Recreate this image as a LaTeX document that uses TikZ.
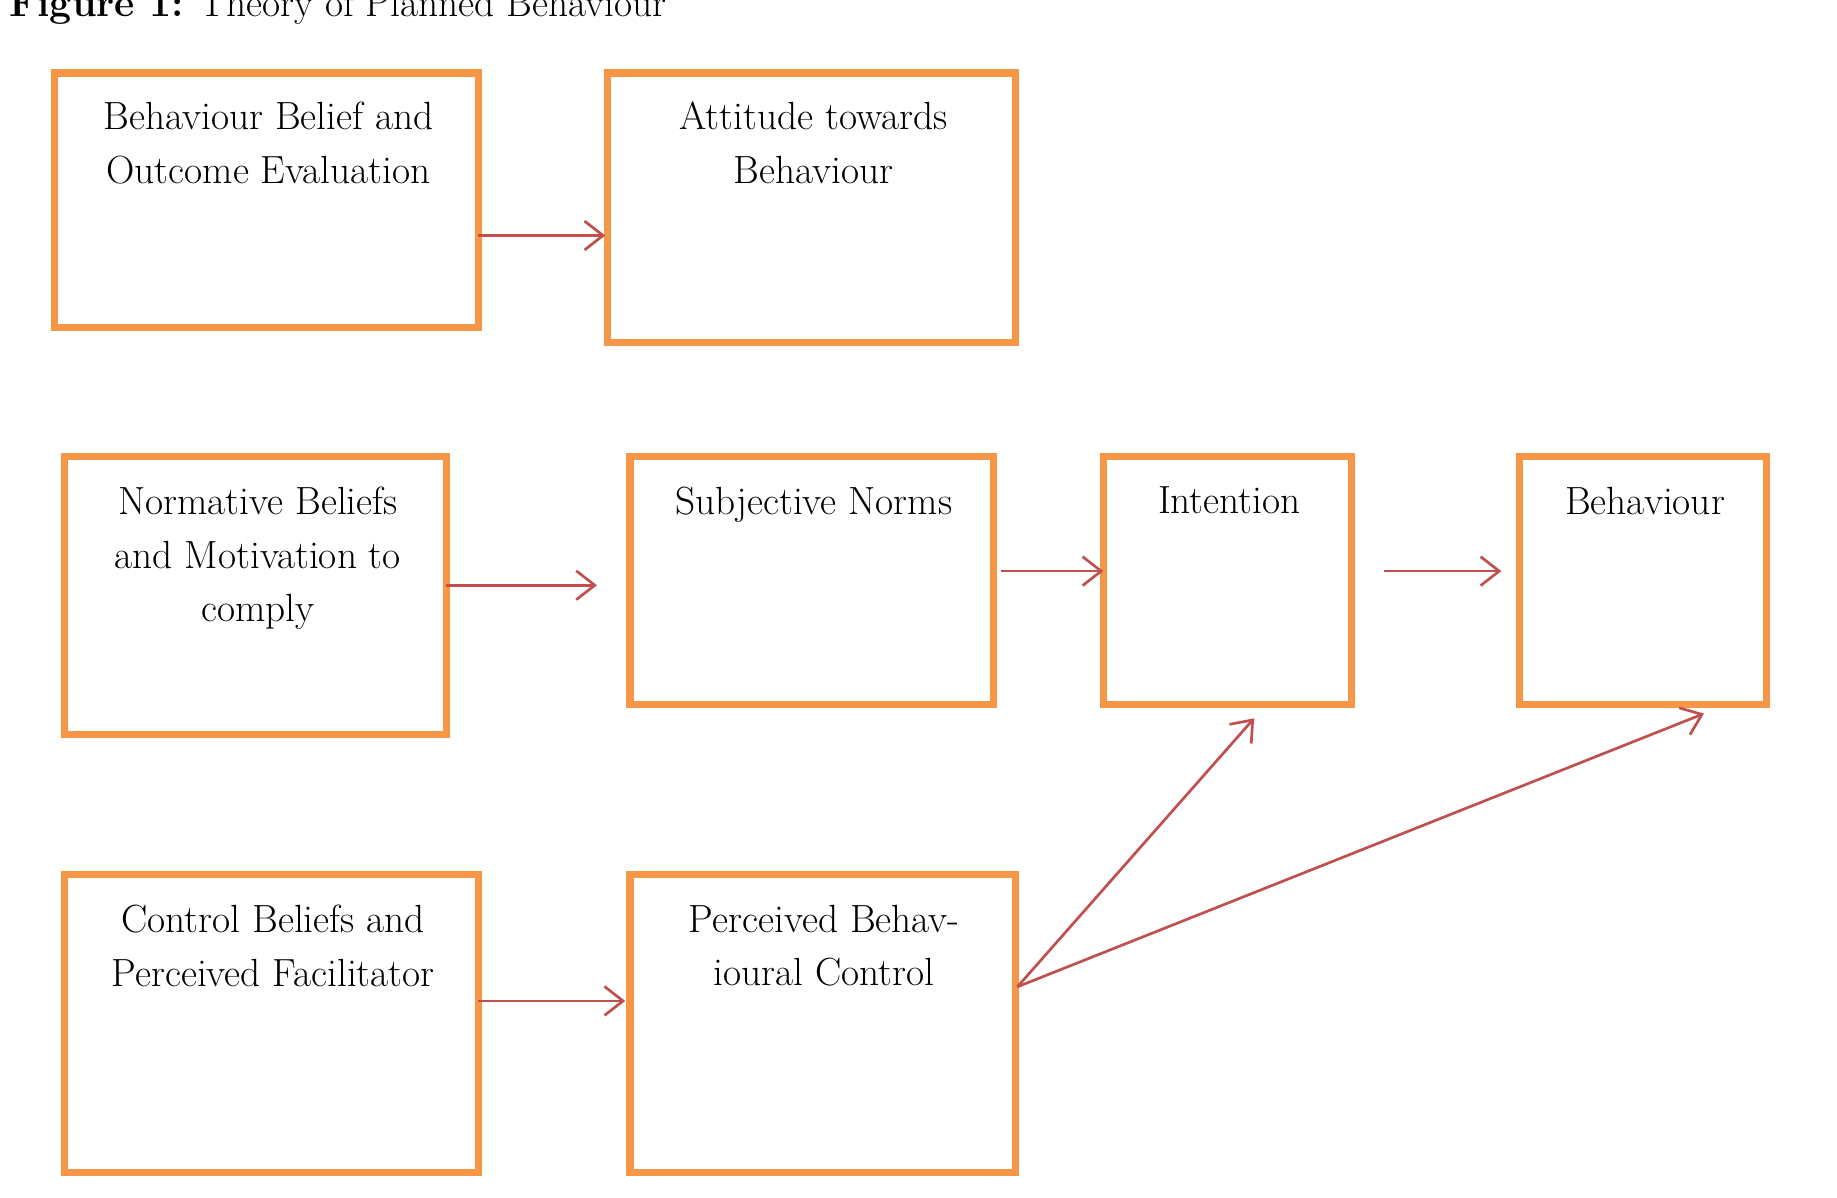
\documentclass[tikz,border=0pt]{standalone}
\usetikzlibrary{arrows.meta}
\definecolor{boxc}{RGB}{247,150,70}
\definecolor{arrc}{RGB}{192,80,77}
\begin{document}
\begin{tikzpicture}[x=0.02cm,y=-0.02cm,
  box/.style={draw=boxc,line width=3.4pt,anchor=north west,inner sep=0pt,outer sep=0pt},
  txt/.style={anchor=north,align=center,font=\fontsize{19}{26}\selectfont,inner sep=0pt},
  arr/.style={draw=arrc,line width=1.3pt,-{Straight Barb[length=9pt,width=14pt,line width=1.3pt]}}]
\useasboundingbox (0,0) rectangle (1560,1017);
\node[anchor=base west,inner sep=0pt,font=\fontsize{19}{26}\selectfont] (title) at (8,14) {\textbf{Figure 1:} Theory of Planned Behaviour};
\node[box,minimum width=360*0.02cm,minimum height=216*0.02cm] (a) at (46,62) {};
\node[box,minimum width=346*0.02cm,minimum height=229*0.02cm] (b) at (516,62) {};
\node[box,minimum width=324*0.02cm,minimum height=236*0.02cm] (c) at (55,388) {};
\node[box,minimum width=309*0.02cm,minimum height=210*0.02cm] (d) at (535,388) {};
\node[box,minimum width=211*0.02cm,minimum height=210*0.02cm] (e) at (937,388) {};
\node[box,minimum width=210*0.02cm,minimum height=210*0.02cm] (f) at (1290,388) {};
\node[box,minimum width=351*0.02cm,minimum height=253*0.02cm] (g) at (55,743) {};
\node[box,minimum width=327*0.02cm,minimum height=253*0.02cm] (h) at (535,743) {};
\node[txt] (ta) at (228,86) {Behaviour Belief and\\Outcome Evaluation};
\node[txt] (tb) at (691,86) {Attitude towards\\Behaviour};
\node[txt] (tc) at (219,413) {Normative Beliefs\\and Motivation to\\comply};
\node[txt] (td) at (691,413) {Subjective Norms};
\node[txt] (te) at (1044,413) {Intention};
\node[txt] (tf) at (1397,413) {Behaviour};
\node[txt] (tg) at (232,768) {Control Beliefs and\\Perceived Facilitator};
\node[txt] (th) at (700,768) {Perceived Behav-\\ioural Control};
\coordinate (hs) at (864,838);
\draw[arr] (a.east |- 0,200) -- ([xshift=-2*0.02cm]b.west |- 0,200);
\draw[arr] (c.east |- 0,497) -- ([xshift=-28*0.02cm]d.west |- 0,497);
\draw[arr] ([xshift=6*0.02cm]d.east |- 0,485) -- (e.west |- 0,485);
\draw[arr] ([xshift=27*0.02cm]e.east |- 0,485) -- ([xshift=-15*0.02cm]f.west |- 0,485);
\draw[arr] (g.east |- 0,850) -- ([xshift=-4*0.02cm]h.west |- 0,850);
\draw[arr] (hs) -- (1065,610);
\draw[arr] (hs) -- (1447,606);
\end{tikzpicture}
\end{document}
